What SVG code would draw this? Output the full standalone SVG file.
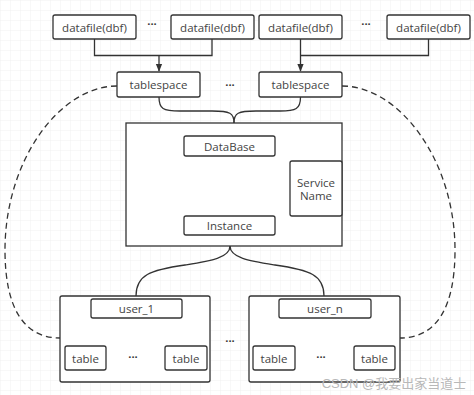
<svg xmlns="http://www.w3.org/2000/svg" width="474" height="395" viewBox="0 0 474 395">
<defs>
<pattern id="grid" width="10" height="10" patternUnits="userSpaceOnUse">
<path d="M10 0 L0 0 0 10" fill="none" stroke="#ededed" stroke-width="0.8"/>
</pattern>
<marker id="arr" viewBox="0 0 10 10" refX="9" refY="5" markerWidth="8" markerHeight="8" markerUnits="userSpaceOnUse" orient="auto">
<path d="M0 1 L10 5 L0 9 Z" fill="#333"/>
</marker>
<style>
.b{fill:#fff;stroke:#333;stroke-width:1.3}
.t{font-family:"Open Sans","Noto Sans",sans-serif;font-size:11.5px;fill:#444;text-anchor:middle;dominant-baseline:central}
.e{fill:none;stroke:#333;stroke-width:1.3}
.d{fill:none;stroke:#333;stroke-width:1.3;stroke-dasharray:6 4}
.dots{font-family:"Open Sans","Noto Sans",sans-serif;font-size:11px;fill:#333;text-anchor:middle;font-weight:bold}
</style>
</defs>
<rect width="474" height="395" fill="#fff"/>
<rect width="474" height="395" fill="url(#grid)"/>

<g id="connectors">
<path class="e" d="M94.5 39 V55.5 H212 V39"/>
<path class="e" d="M159 55.5 V71" marker-end="url(#arr)"/>
<path class="e" d="M300.5 39 V71" marker-end="url(#arr)"/>
<path class="e" d="M428.5 39 V55.5 H300.5"/>
<path class="e" d="M159 97 C159 109, 163 111, 180 111 L212 111 C230 111, 234 113, 234 123"/>
<path class="e" d="M300.5 97 C300.5 109, 296 111, 280 111 L256 111 C238 111, 234 113, 234 123"/>
<path class="e" d="M230 156 V216"/>
<path class="e" d="M230 235 V246 C230 258, 210 261, 185 265 C150 270, 136 275, 136 296"/>
<path class="e" d="M230 235 V246 C230 258, 250 261, 275 265 C310 270, 324 275, 324 296"/>
<path class="e" d="M136 318 C136 328, 130 331, 115 331 L100 331 C89 331, 86 334, 86 346"/>
<path class="e" d="M136 318 C136 328, 142 331, 157 331 L172 331 C183 331, 186 334, 186 346"/>
<path class="e" d="M325 318 C325 328, 319 331, 304 331 L289 331 C277 331, 274 334, 274 346"/>
<path class="e" d="M325 318 C325 328, 331 331, 346 331 L360 331 C371 331, 374 334, 374 346"/>
<path class="d" d="M117 86 C60 86, 5 160, 5 250 C5 310, 25 338, 60 338"/>
<path class="d" d="M342 86 C399 86, 455 160, 455 250 C455 310, 435 338, 400 338"/>
</g>

<g id="datafile1"><rect class="b" x="53" y="15" width="83" height="24" rx="2"/><text class="t" x="94.5" y="27">datafile(dbf)</text></g>
<g id="datafile2"><rect class="b" x="171" y="15" width="83" height="24" rx="2"/><text class="t" x="212.5" y="27">datafile(dbf)</text></g>
<g id="datafile3"><rect class="b" x="259" y="15" width="83" height="24" rx="2"/><text class="t" x="300.5" y="27">datafile(dbf)</text></g>
<g id="datafile4"><rect class="b" x="387" y="15" width="83" height="24" rx="2"/><text class="t" x="428.5" y="27">datafile(dbf)</text></g>
<text class="dots" x="152" y="28">···</text>
<text class="dots" x="366" y="28">···</text>

<g id="tablespace1"><rect class="b" x="117" y="72" width="83" height="25" rx="2"/><text class="t" x="158.5" y="84.5">tablespace</text></g>
<g id="tablespace2"><rect class="b" x="259" y="72" width="83" height="25" rx="2"/><text class="t" x="300.5" y="84.5">tablespace</text></g>
<text class="dots" x="230" y="89">···</text>

<g id="database-box"><rect class="b" x="126" y="123" width="216" height="123"/></g>
<g id="database"><rect class="b" x="184" y="136" width="91" height="20" rx="2"/><text class="t" x="229.5" y="146">DataBase</text></g>
<g id="instance"><rect class="b" x="184" y="216" width="91" height="19" rx="2"/><text class="t" x="229.5" y="225.5">Instance</text></g>
<g id="service-name"><rect class="b" x="290" y="161" width="52" height="55" rx="2"/><text class="t" x="316" y="182">Service</text><text class="t" x="316" y="195.5">Name</text></g>

<g id="user1-box"><rect class="b" x="60" y="296" width="150" height="86" rx="2"/></g>
<g id="user1"><rect class="b" x="91" y="299" width="91" height="19" rx="2"/><text class="t" x="136.5" y="308.5">user_1</text></g>
<g id="table1"><rect class="b" x="65" y="346" width="41" height="24" rx="2"/><text class="t" x="85.5" y="358">table</text></g>
<g id="table2"><rect class="b" x="165" y="346" width="42" height="24" rx="2"/><text class="t" x="186" y="358">table</text></g>
<text class="dots" x="133" y="361">···</text>

<text class="dots" x="230" y="345">···</text>

<g id="usern-box"><rect class="b" x="249" y="296" width="151" height="86" rx="2"/></g>
<g id="usern"><rect class="b" x="279" y="299" width="92" height="19" rx="2"/><text class="t" x="325" y="308.5">user_n</text></g>
<g id="table3"><rect class="b" x="253" y="346" width="42" height="24" rx="2"/><text class="t" x="274" y="358">table</text></g>
<g id="table4"><rect class="b" x="354" y="346" width="41" height="24" rx="2"/><text class="t" x="374.5" y="358">table</text></g>
<text class="dots" x="321" y="361">···</text>

<text x="394" y="388" font-family="'Liberation Sans','Noto Sans CJK SC',sans-serif" font-size="13" fill="#b8b8b8" text-anchor="middle">CSDN @我要出家当道士</text>
</svg>
